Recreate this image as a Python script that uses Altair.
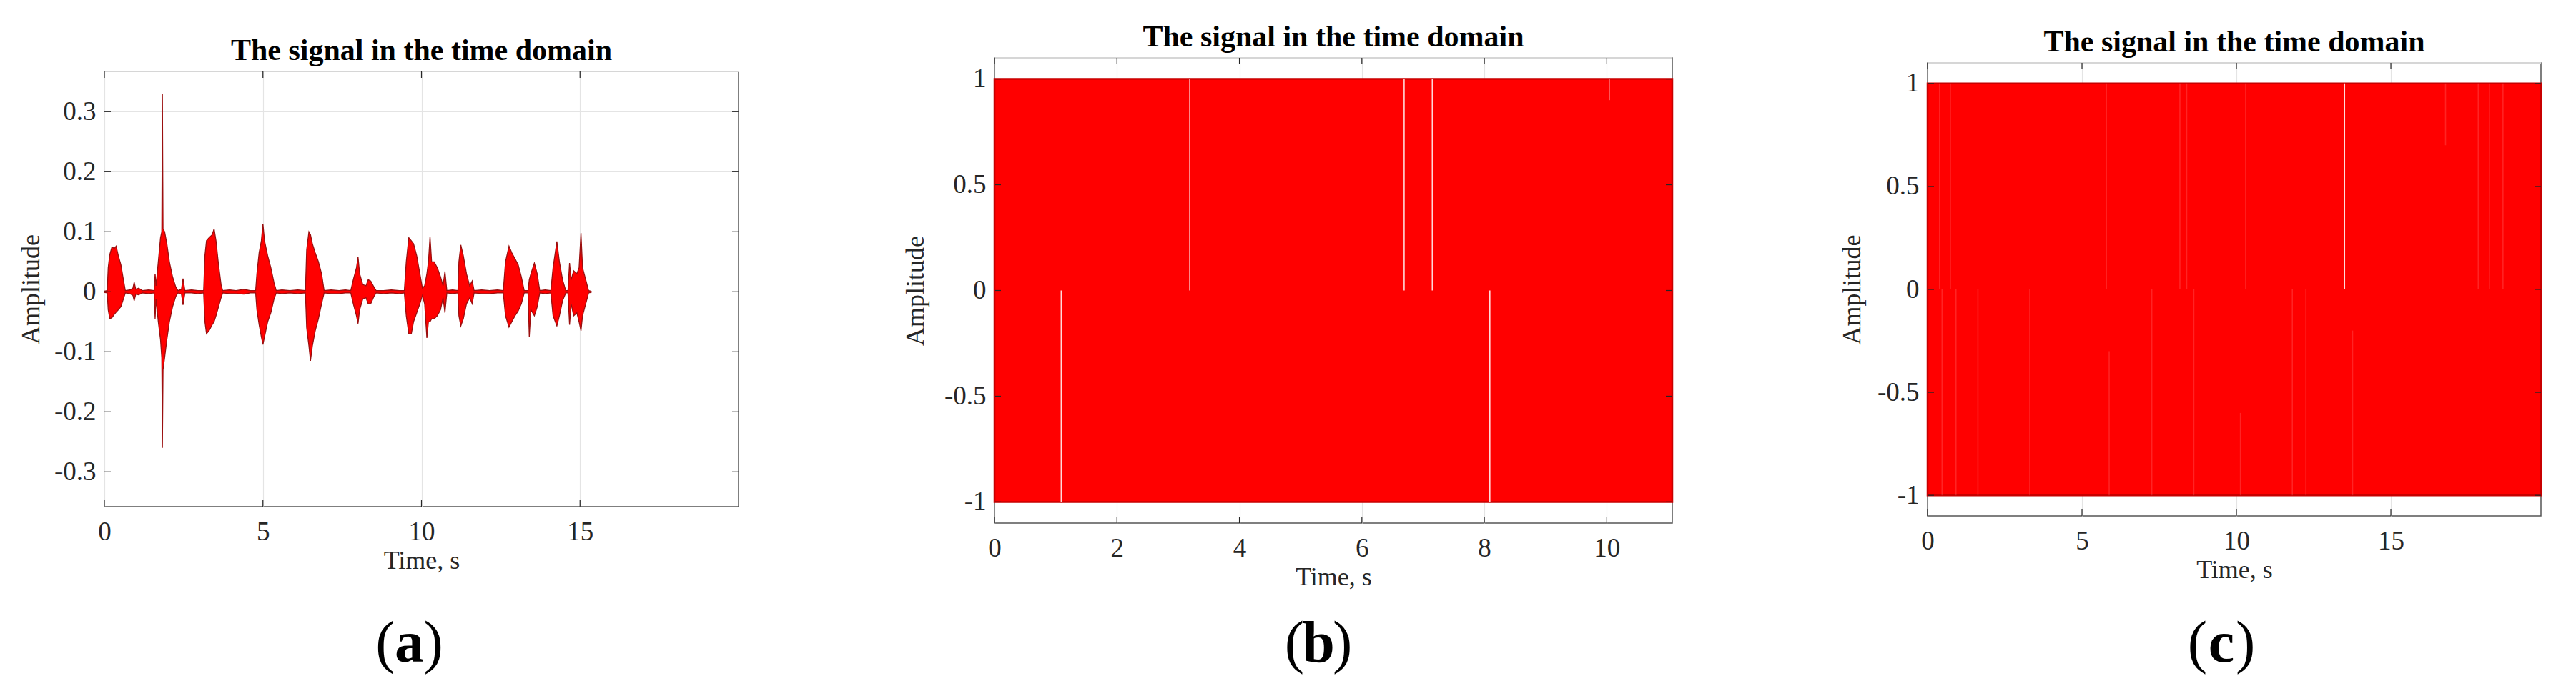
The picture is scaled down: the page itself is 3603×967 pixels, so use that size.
import altair as alt
import pandas as pd

FONT = "Liberation Serif"
TXT = "#262626"
TITLE = "The signal in the time domain"

# ---------------- panel (a): speech signal, envelope (upper / lower) ----------------
t_a = [0.00, 0.09, 0.12, 0.17, 0.24, 0.31, 0.37, 0.44, 0.52, 0.60, 0.66, 0.80, 0.90, 0.94, 0.99,
       1.08, 1.20, 1.40, 1.57, 1.60, 1.63, 1.70, 1.77, 1.81, 1.83, 1.85, 1.90, 1.97, 2.05, 2.15,
       2.25, 2.32, 2.43, 2.48, 2.54, 2.75, 2.95, 3.13, 3.17, 3.22, 3.30, 3.40, 3.46, 3.52, 3.60,
       3.68, 3.73, 3.95, 4.15, 4.40, 4.60, 4.77, 4.81, 4.88, 4.95, 5.00, 5.05, 5.15, 5.25, 5.35,
       5.42, 5.60, 5.85, 6.10, 6.34, 6.38, 6.45, 6.50, 6.56, 6.65, 6.75, 6.85, 6.93, 7.15, 7.40,
       7.60, 7.77, 7.85, 7.95, 8.00, 8.05, 8.15, 8.25, 8.32, 8.40, 8.50, 8.57, 8.80, 9.05, 9.30,
       9.46, 9.52, 9.60, 9.68, 9.75, 9.85, 9.95, 10.03, 10.10, 10.17, 10.22, 10.27, 10.32, 10.40,
       10.50, 10.60, 10.68, 10.74, 10.80, 10.98, 11.15, 11.18, 11.24, 11.32, 11.42, 11.52, 11.60,
       11.66, 11.90, 12.15, 12.40, 12.58, 12.65, 12.76, 12.85, 12.95, 13.05, 13.15, 13.24, 13.36,
       13.40, 13.45, 13.56, 13.65, 13.73, 13.90, 14.08, 14.15, 14.27, 14.35, 14.45, 14.55, 14.62,
       14.67, 14.72, 14.80, 14.90, 14.97, 15.03, 15.08, 15.18, 15.27, 15.35]
hi_a = [0.001, 0.002, 0.040, 0.062, 0.075, 0.072, 0.076, 0.060, 0.045, 0.020, 0.002, 0.003, 0.006, 0.016, 0.004,
        0.006, 0.002, 0.003, 0.002, 0.030, 0.010, 0.050, 0.090, 0.100, 0.330, 0.105, 0.100, 0.080, 0.050, 0.025,
        0.008, 0.002, 0.004, 0.022, 0.002, 0.003, 0.002, 0.002, 0.060, 0.085, 0.090, 0.095, 0.105, 0.085, 0.045,
        0.012, 0.002, 0.003, 0.002, 0.004, 0.002, 0.002, 0.030, 0.065, 0.085, 0.113, 0.085, 0.060, 0.040, 0.015,
        0.002, 0.003, 0.002, 0.003, 0.002, 0.070, 0.100, 0.095, 0.080, 0.065, 0.050, 0.030, 0.002, 0.003, 0.002,
        0.003, 0.002, 0.020, 0.040, 0.058, 0.030, 0.012, 0.010, 0.020, 0.018, 0.008, 0.002, 0.002, 0.003, 0.002,
        0.002, 0.050, 0.090, 0.085, 0.080, 0.060, 0.030, 0.006, 0.010, 0.030, 0.050, 0.092, 0.050, 0.050,
        0.040, 0.025, 0.010, 0.034, 0.002, 0.003, 0.002, 0.050, 0.078, 0.060, 0.030, 0.010, 0.018,
        0.002, 0.003, 0.002, 0.003, 0.002, 0.050, 0.076, 0.065, 0.055, 0.045, 0.025, 0.002, 0.002,
        0.020, 0.030, 0.048, 0.030, 0.002, 0.003, 0.002, 0.040, 0.084, 0.050, 0.020, 0.002, 0.002,
        0.048, 0.020, 0.035, 0.030, 0.040, 0.098, 0.040, 0.020, 0.002, 0.001]
lo_a = [-0.001, -0.002, -0.030, -0.045, -0.043, -0.038, -0.034, -0.030, -0.025, -0.012, -0.002, -0.003, -0.006, -0.015, -0.004,
        -0.005, -0.002, -0.003, -0.002, -0.045, -0.012, -0.050, -0.080, -0.110, -0.260, -0.130, -0.110, -0.080, -0.050, -0.025,
        -0.008, -0.002, -0.004, -0.022, -0.002, -0.002, -0.003, -0.002, -0.050, -0.070, -0.065, -0.055, -0.050, -0.040, -0.025,
        -0.010, -0.002, -0.003, -0.003, -0.004, -0.002, -0.002, -0.030, -0.055, -0.075, -0.088, -0.075, -0.050, -0.035, -0.012,
        -0.002, -0.003, -0.002, -0.003, -0.002, -0.060, -0.090, -0.115, -0.090, -0.065, -0.045, -0.020, -0.002, -0.003, -0.003,
        -0.002, -0.002, -0.020, -0.040, -0.053, -0.030, -0.012, -0.010, -0.020, -0.020, -0.008, -0.002, -0.003, -0.002, -0.003,
        -0.002, -0.040, -0.070, -0.070, -0.050, -0.035, -0.020, -0.006, -0.020, -0.077, -0.050, -0.050, -0.045, -0.045,
        -0.040, -0.030, -0.010, -0.035, -0.002, -0.003, -0.002, -0.040, -0.057, -0.045, -0.020, -0.010, -0.020,
        -0.002, -0.003, -0.003, -0.002, -0.002, -0.040, -0.059, -0.050, -0.040, -0.032, -0.020, -0.002, -0.002,
        -0.075, -0.030, -0.040, -0.025, -0.002, -0.003, -0.002, -0.040, -0.057, -0.040, -0.015, -0.002, -0.002,
        -0.055, -0.020, -0.040, -0.035, -0.050, -0.065, -0.040, -0.020, -0.002, -0.001]
xticks_a = [0, 5, 10, 15]
yticks_a = [0.3, 0.2, 0.1, 0, -0.1, -0.2, -0.3]

# ---------------- panel (b): clipped signal filling +-1 ----------------
t_b = [0.0, 11.07]
hi_b = [1.0, 1.0]
lo_b = [-1.0, -1.0]
gap_t_b = [1.09, 3.19, 6.69, 7.15, 8.09, 10.04]
gap_top_b = [0.0, 1.0, 1.0, 1.0, 0.0, 1.0]
gap_bot_b = [-1.0, 0.0, 0.0, 0.0, -1.0, 0.9]
gap_op_b = [0.9, 0.9, 0.9, 0.9, 0.9, 0.6]
xticks_b = [0, 2, 4, 6, 8, 10]
yticks_bc = [1, 0.5, 0, -0.5, -1]

# ---------------- panel (c) ----------------
t_c = [0.0, 19.86]
hi_c = [1.0, 1.0]
lo_c = [-1.0, -1.0]
gap_t_c = [13.5, 0.39, 0.74, 5.79, 8.17, 8.39, 10.30, 16.77, 17.83, 18.19, 18.63,
           0.47, 0.92, 1.63, 3.31, 5.88, 7.26, 8.62, 10.13, 11.81, 12.25, 13.76]
gap_top_c = [1.0, 1.0, 1.0, 1.0, 1.0, 1.0, 1.0, 1.0, 1.0, 1.0, 1.0,
             0.0, 0.0, 0.0, 0.0, -0.3, 0.0, 0.0, -0.6, 0.0, 0.0, -0.2]
gap_bot_c = [0.0, 0.0, 0.0, 0.0, 0.0, 0.0, 0.0, 0.7, 0.0, 0.0, 0.0,
             -1.0, -1.0, -1.0, -1.0, -1.0, -1.0, -1.0, -1.0, -1.0, -1.0, -1.0]
gap_op_c = [0.9, 0.15, 0.15, 0.15, 0.15, 0.15, 0.15, 0.15, 0.15, 0.15, 0.15,
            0.15, 0.15, 0.15, 0.15, 0.15, 0.15, 0.15, 0.15, 0.15, 0.15, 0.15]
xticks_c = [0, 5, 10, 15]

letters = ["a", "b", "c"]

NEG = "datum.value < 0 ? '-' + format(-datum.value, '~g') : format(datum.value, '~g')"
FRAME = alt.ViewBackground(stroke="#555555", strokeWidth=1.5)


def panel(t, hi, lo, gt, gtop, gbot, gop, xdom, ydom, xt, yt, w, h, letter,
          ytitle_pad, shift, lab_dx, fill_stroke, stroke_w):
    xs = alt.Scale(domain=xdom, nice=False, zero=False)
    ys = alt.Scale(domain=ydom, nice=False, zero=False)
    xax = alt.Axis(values=xt, title="Time, s", grid=True, ticks=False, domain=False,
                   labelFlush=False, format="d", labelPadding=17, titlePadding=5)
    yax = alt.Axis(values=yt, title="Amplitude", grid=True, ticks=False, domain=False,
                   labelExpr=NEG, titlePadding=ytitle_pad)

    env = pd.DataFrame({"t": t, "hi": hi, "lo": lo})
    area = alt.Chart(env).mark_area(color="#ff0000", stroke=fill_stroke, strokeWidth=stroke_w,
                                    interpolate="linear").encode(
        x=alt.X("t:Q", scale=xs, axis=xax),
        y=alt.Y("hi:Q", scale=ys, axis=yax),
        y2="lo:Q",
    )
    layers = [area]
    if gt:
        gaps = pd.DataFrame({"t": gt, "hi": gtop, "lo": gbot, "op": gop})
        layers.append(alt.Chart(gaps).mark_rule(color="#fff2f2", strokeWidth=1.6).encode(
            x=alt.X("t:Q", scale=xs, axis=xax),
            y=alt.Y("hi:Q", scale=ys, axis=yax),
            y2="lo:Q",
            opacity=alt.Opacity("op:Q", scale=None),
        ))
    xtk = pd.DataFrame({"t": xt})
    ytk = pd.DataFrame({"hi": yt})
    tk = dict(color=TXT, strokeWidth=1.2)
    layers += [
        # light top edge of the box
        alt.Chart(xtk).mark_rule(color="#d6d6d6", strokeWidth=2).encode(
            x=alt.value(0), x2=alt.value(w), y=alt.value(0)),
        alt.Chart(xtk).mark_rule(**tk).encode(x=alt.X("t:Q", scale=xs, axis=xax),
                                              y=alt.value(h), y2=alt.value(h - 9)),
        alt.Chart(xtk).mark_rule(**tk).encode(x=alt.X("t:Q", scale=xs, axis=xax),
                                              y=alt.value(0), y2=alt.value(9)),
        alt.Chart(ytk).mark_rule(**tk).encode(y=alt.Y("hi:Q", scale=ys, axis=yax),
                                              x=alt.value(0), x2=alt.value(9)),
        alt.Chart(ytk).mark_rule(**tk).encode(y=alt.Y("hi:Q", scale=ys, axis=yax),
                                              x=alt.value(w - 9), x2=alt.value(w)),
    ]
    # panel letter "(x)"
    cx = w / 2 + lab_dx
    base_y = 920 - (75 + shift)
    lab = pd.DataFrame({"l": [letter], "o": ["("], "c": [")"]})
    layers += [
        alt.Chart(lab).mark_text(font=FONT, fontSize=82, fontWeight="bold", color="black",
                                 baseline="alphabetic", align="center").encode(
            text="l:N", x=alt.value(cx), y=alt.value(base_y)),
        alt.Chart(lab).mark_text(font=FONT, fontSize=82, color="black",
                                 baseline="alphabetic", align="right").encode(
            text="o:N", x=alt.value(cx - 20), y=alt.value(base_y)),
        alt.Chart(lab).mark_text(font=FONT, fontSize=82, color="black",
                                 baseline="alphabetic", align="left").encode(
            text="c:N", x=alt.value(cx + 20), y=alt.value(base_y)),
    ]
    body = alt.layer(*layers).properties(
        width=w, height=h, view=FRAME,
        title=alt.Title(TITLE, font=FONT, fontSize=42, fontWeight="bold", color="black",
                        offset=12, dy=39, anchor="middle", baseline="alphabetic", frame="group"),
    )
    # invisible spacer above the panel sets its vertical position in the row
    sp = pd.DataFrame({"s": ["."]})
    spacer = alt.Chart(sp).mark_text(opacity=0, fontSize=2).encode(
        text="s:N", x=alt.value(0), y=alt.value(0)
    ).properties(width=1, height=1 + shift)
    return alt.vconcat(spacer, body, spacing=0)


pa = panel(t_a, hi_a, lo_a, [], [], [], [], [0, 20], [-0.358, 0.367], xticks_a, yticks_a,
           887, 609, letters[0], 13, 19, -17, "#9a0f0f", 1.3)
pb = panel(t_b, hi_b, lo_b, gap_t_b, gap_top_b, gap_bot_b, gap_op_b, [0, 11.07], [-1.1, 1.1],
           xticks_b, yticks_bc, 948, 651, letters[1], 21, 0, -21, "#c80000", 2.5)
pc = panel(t_c, hi_c, lo_c, gap_t_c, gap_top_c, gap_bot_c, gap_op_c, [0, 19.86], [-1.1, 1.1],
           xticks_c, yticks_bc, 858, 634, letters[2], 16, 7, -18, "#c80000", 2.5)

chart = alt.hconcat(pa, pb, pc, spacing=226).properties(
    padding={"left": 16, "top": 18, "right": 5, "bottom": 5},
    background="white",
).configure_axis(
    labelFont=FONT, labelFontSize=37, labelColor=TXT, labelPadding=12,
    titleFont=FONT, titleFontSize=36, titleFontWeight="normal", titleColor=TXT,
    gridColor="#e4e4e4", gridWidth=1.2,
).configure_view(stroke="transparent")

chart.save("out.html", embed_options={"renderer": "svg", "actions": False})
